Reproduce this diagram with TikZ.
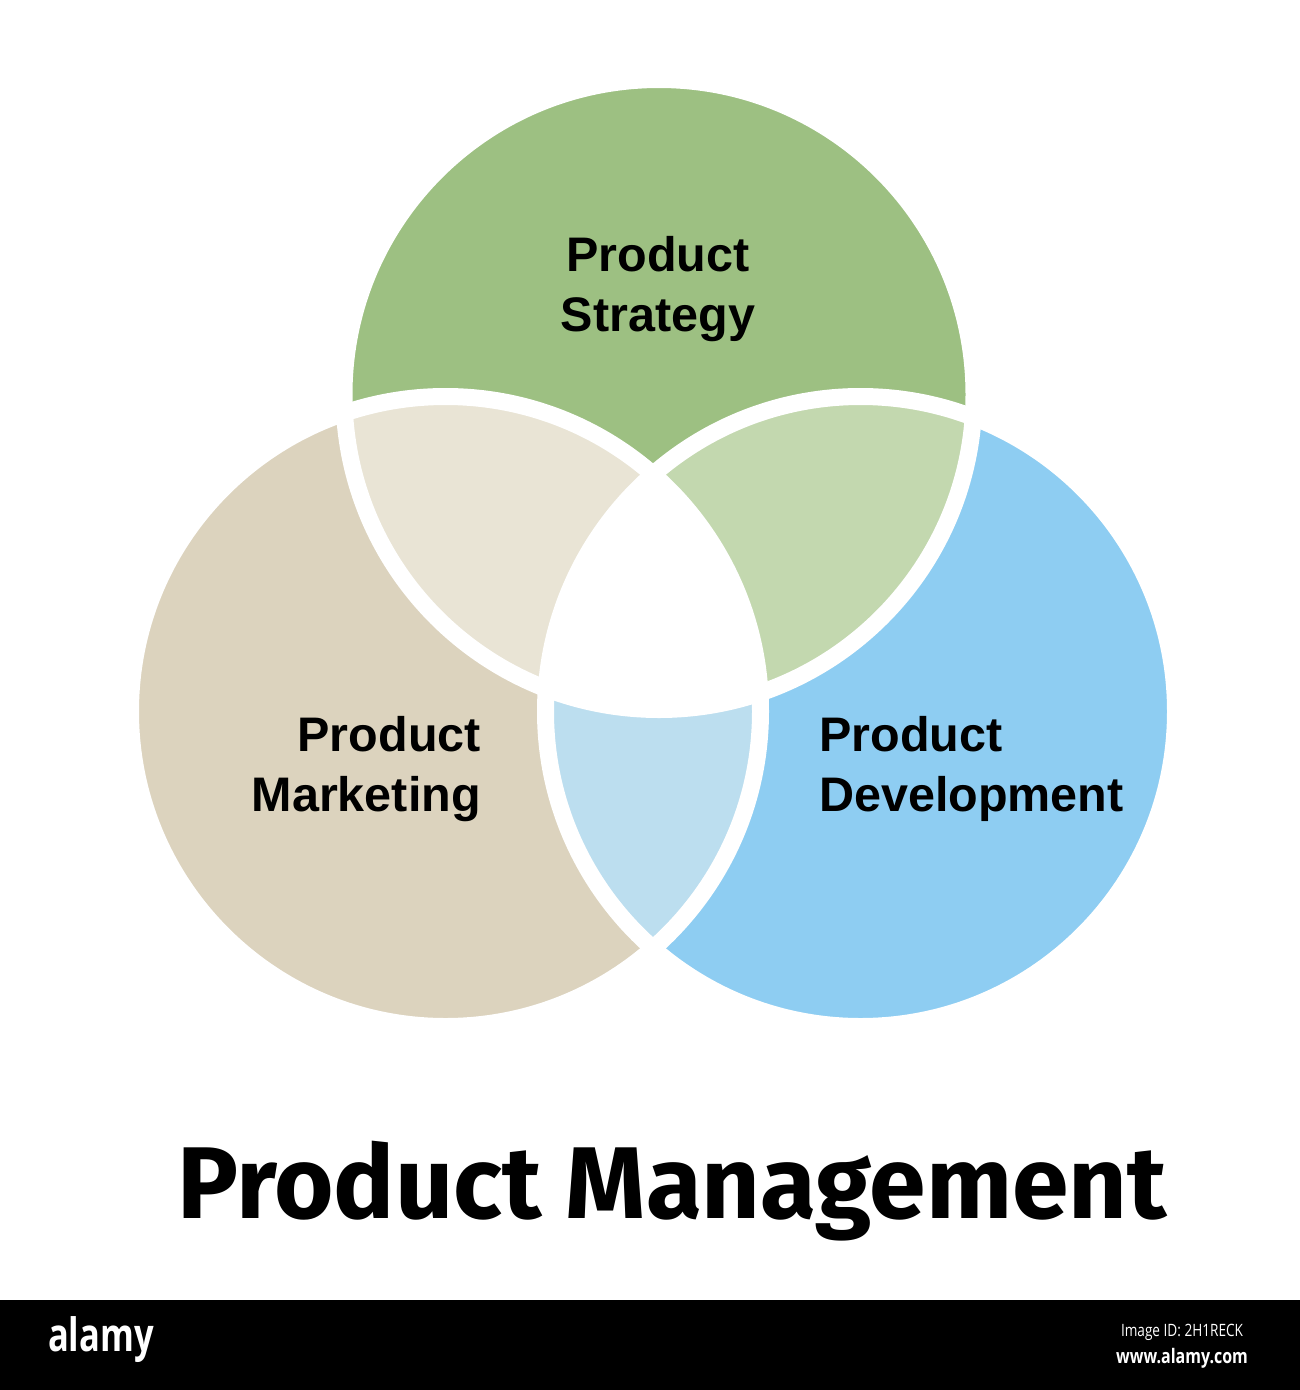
\documentclass[tikz,border=0pt]{standalone}
\usepackage{fontspec}
\setmainfont{Liberation Sans}
\newfontfamily\titlefont{Fira Sans}
\newfontfamily\barfont{Open Sans}
\usepackage{xcolor}
\definecolor{stratgreen}{RGB}{157,192,130}
\definecolor{mktbeige}{RGB}{220,211,190}
\definecolor{devblue}{RGB}{142,205,242}
\definecolor{lightgreen}{RGB}{195,216,175}
\definecolor{lightbeige}{RGB}{233,228,213}
\definecolor{lightblue}{RGB}{188,222,239}

\begin{document}
\begin{tikzpicture}[x=1pt,y=-1pt,
  ring/.style={draw=white, line width=17pt},
  lbl/.style={font=\fontsize{48.5}{60}\selectfont\bfseries, inner sep=0pt}]
\useasboundingbox (0,0) rectangle (1300,1390);
\coordinate (top) at (659,394.5);
\coordinate (left) at (445.5,711.5);
\coordinate (right) at (860.5,711.5);

% the three circles
\fill [mktbeige] (left) circle (315pt);
\fill [devblue] (right) circle (315pt);
\fill [stratgreen] (top) circle (315pt);
\begin{scope}
\clip (left) circle (315pt);
\fill [lightblue] (right) circle (315pt);
\end{scope}
\begin{scope}
\clip (top) circle (315pt);
\fill [lightbeige] (left) circle (315pt);
\fill [lightgreen] (right) circle (315pt);
\clip (left) circle (315pt);
\fill [white] (right) circle (315pt);
\end{scope}
\draw [ring] (left) circle (315pt);
\draw [ring] (right) circle (315pt);
\draw [ring] (top) circle (315pt);

\node [lbl, align=center, anchor=north] (strat) at (658,236) {Product\\Strategy};
\node [lbl, align=right, anchor=north east] (mkt) at (481,716) {Product\\Marketing};
\node [lbl, align=left, anchor=north west] (dev) at (819,716) {Product\\Development};

\node [font=\titlefont\bfseries\fontsize{102}{110}\selectfont, inner sep=0pt, anchor=base] (title) at (672,1218) {Product Management};

% bottom bar
\fill [black] (0,1300) rectangle (1300,1390);
\node [white, inner sep=0pt, font=\barfont\bfseries\fontsize{46}{46}\selectfont] (logo) at (101,1340) {\scalebox{0.75}[1]{alamy}};
\node [white, inner sep=0pt, font=\barfont\fontsize{17}{17}\selectfont] (imgid) at (1182,1332) {\scalebox{0.8}[1]{Image ID: 2H1RECK}};
\node [white, inner sep=0pt, font=\barfont\bfseries\fontsize{20}{20}\selectfont] (www) at (1182,1358) {\scalebox{0.8}[1]{www.alamy.com}};
\end{tikzpicture}
\end{document}
